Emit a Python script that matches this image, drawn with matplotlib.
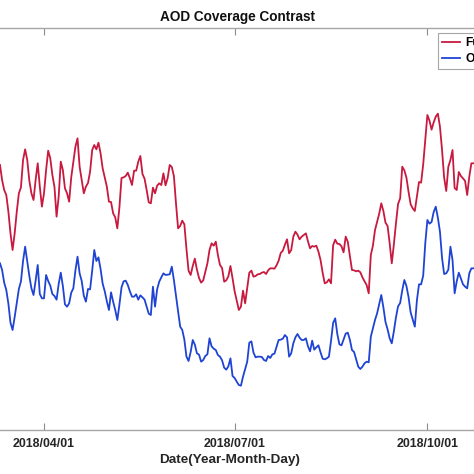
import pandas as pd
import matplotlib
matplotlib.use("Agg")
from matplotlib import pyplot as plt
import matplotlib.dates as mdates

plt.rcParams["font.family"] = ["Liberation Sans", "DejaVu Sans"]
plt.rcParams["font.weight"] = "bold"

# daily coverage (%), starting 2018/03/11
start_date = "2018-03-11"
fused = [
    79.5, 75, 72, 70.5, 65.5, 59, 54, 59, 65.5, 71, 72.8, 81, 84.2, 81, 74.8, 71, 69, 75, 80, 73,
    67, 71, 78, 83.8, 81.5, 76.5, 72.9, 64, 70, 80.5, 78, 72.5, 71, 68.5, 75.8, 80.5, 85, 87.5, 79, 75,
    71, 73, 74.1, 77.5, 84, 85.5, 84.2, 86.2, 83, 78.5, 75.7, 73, 68.5, 68.4, 65, 63.8, 60.5, 66.8, 75.6, 75.8,
    76.2, 77.2, 75.5, 73.5, 77.8, 77.8, 80.5, 82.2, 76.8, 75.4, 72, 68.3, 68, 72.7, 71, 73.3, 74, 73.5, 77, 73.4,
    75.5, 79.5, 78.9, 76.2, 68, 60.5, 61.2, 62.8, 61.7, 54.3, 47.8, 46.5, 49.2, 51.4, 48.1, 45.6, 44.2, 44.9, 47.4, 50,
    54, 56, 55.3, 56.5, 52.5, 49.5, 48.6, 44.5, 44.9, 46.1, 49.2, 45.5, 41.6, 38.8, 36, 37, 41.8, 38, 42.6, 47.2,
    47.8, 46, 46.2, 46.7, 46.8, 47.2, 47.4, 46.8, 47.9, 48.5, 48.5, 48.4, 49.4, 50.8, 53.1, 53.8, 55.6, 57.2, 53, 54,
    58, 59.5, 58.6, 57.2, 58, 58.5, 59, 56.6, 54.5, 55.2, 55, 55.3, 53.5, 51, 47.2, 44, 44.3, 45.2, 44, 55.4,
    57.1, 55.9, 55.8, 55.1, 53.3, 58, 56.5, 52.2, 48, 47.9, 47.6, 47.8, 47.3, 45.8, 44.6, 43.5, 41, 52.5, 55.3, 60,
    62.5, 64.9, 68, 65.7, 62.2, 61.2, 56, 50, 55.7, 62, 67.8, 69.5, 79, 77.9, 75.7, 71.5, 67.7, 66.5, 65.7, 70,
    74.4, 74.2, 79.7, 87, 94.5, 92.8, 90.1, 92.3, 94, 94.9, 91, 84, 75.7, 71.7, 79, 81, 84, 72.6, 72, 77.4,
    76.2, 75.5, 74.7, 70.5, 76, 80, 80,
]
original = [
    50, 48, 44.2, 42, 37.9, 32.2, 30, 33.9, 38.2, 42.3, 44.6, 50.7, 55, 50.6, 46.2, 42.5, 40.5, 44.8, 49.5, 40.8,
    39.5, 39.5, 46.5, 44.7, 43.3, 40.8, 40.2, 39.1, 43.8, 47.2, 43.2, 37.7, 37, 38, 41.2, 42.5, 47.9, 52, 47, 44.7,
    40.3, 38.5, 42.3, 42.2, 47.8, 54, 50.7, 51.8, 48.3, 43.9, 41.6, 38.6, 36, 41.3, 38.5, 36, 33, 37.6, 42.8, 44.6,
    44.8, 43.5, 41.6, 40, 40, 40.7, 39.1, 40.4, 39.8, 39.1, 37, 34.9, 34.5, 43, 37, 42.2, 44.5, 45.8, 47, 46.5,
    46.6, 46.7, 49, 45, 40.2, 35.6, 31, 30, 27.1, 22, 20.7, 23.4, 27, 25.6, 23, 22.6, 20.5, 21, 22.2, 22.7,
    27.5, 25.1, 24.4, 24, 22.5, 22, 20.9, 18.7, 18.1, 19.1, 21.5, 16.2, 15.6, 14.5, 13.5, 13.3, 16, 18.2, 20.5, 26.2,
    26.6, 23.2, 21.8, 22, 22, 21.9, 21, 20.7, 22.2, 21.6, 22.7, 22.9, 24.9, 27, 27.1, 27.4, 28.5, 27.8, 22, 23,
    26, 27.8, 28.8, 27.7, 27, 27, 27.5, 25.1, 23.6, 26.8, 24.1, 24.8, 25.4, 23.3, 21.4, 21.2, 21.5, 22, 26.7, 32.1,
    33.5, 28.8, 25.7, 25.4, 27.2, 28.9, 29.2, 27.1, 24, 23.4, 21.2, 19, 18.3, 19, 20, 20.5, 20.3, 28, 30.5, 33,
    35, 37.8, 40.5, 36.8, 32.4, 30.2, 27.5, 26, 29.6, 33.8, 37.1, 38.1, 41.9, 45, 43.2, 39.9, 35.3, 33.2, 31, 38.9,
    43.7, 43.7, 46.3, 56.1, 63, 61.9, 62.4, 65.4, 67, 63.7, 59.5, 51.6, 46.8, 47, 48.1, 55, 51, 41, 44.6, 47.2,
    45.4, 43.7, 43, 42.5, 47, 48.5, 48.5,
]
labels = ["Fused", "Original"]
tick_dates = ["2018-04-01", "2018-07-01", "2018-10-01"]

dates = pd.date_range(start_date, periods=len(fused), freq="D")

fig = plt.figure(figsize=(4.74, 4.74), dpi=100)
# the picture is a crop: the axes run past the left and right edges
ax = fig.add_axes([-60 / 474, 44 / 474, 580 / 474, 402 / 474])

ax.plot(dates, fused, color="#C8193F", linewidth=1.3, label=labels[0])
ax.plot(dates, original, color="#1F44D4", linewidth=1.3, label=labels[1])

apr1 = mdates.date2num(pd.Timestamp(tick_dates[0]))
ax.set_xlim(apr1 - 104 / 2.095, apr1 + 476 / 2.095)
ax.set_ylim(0, 120.6)

ax.set_xticks(pd.to_datetime(tick_dates))
ax.xaxis.set_major_formatter(mdates.DateFormatter("%Y/%m/%d"))
ax.tick_params(axis="x", direction="in", length=5, width=0.8, color="#8c8c8c",
               top=True, labelsize=8.9, labelcolor="#262626", pad=6)
ax.set_yticks([])
for side in ax.spines:
    ax.spines[side].set_color("#a6a6a6")
    ax.spines[side].set_linewidth(1.0)

ax.set_xlabel("Date(Year-Month-Day)", fontsize=9.7, fontweight="bold",
              color="#262626", labelpad=3)
fig.text(238 / 474, 1 - 17 / 474, "AOD Coverage Contrast", ha="center", va="center",
         fontsize=9.8, fontweight="bold", color="#111111")

leg = ax.legend(loc="upper left", bbox_to_anchor=(438 / 474, 1 - 33 / 474),
                bbox_transform=fig.transFigure, borderaxespad=0, fontsize=8.7,
                handlelength=1.5, handletextpad=0.4, borderpad=0.35, labelspacing=0.3,
                fancybox=False, framealpha=1, edgecolor="#a6a6a6")
leg.get_frame().set_linewidth(0.8)

fig.savefig("out.png", dpi=100)
